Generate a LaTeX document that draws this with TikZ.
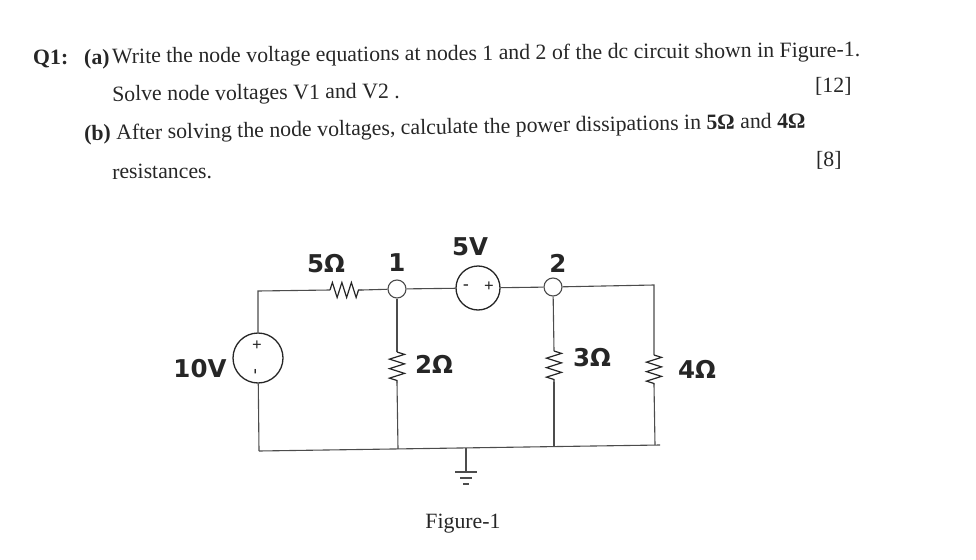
\documentclass[tikz,border=0pt]{standalone}
\usepackage{fontspec}
\setmainfont{Liberation Serif}
\newfontfamily\labelfont{DejaVu Sans}
\usetikzlibrary{decorations.pathmorphing}
\tikzstyle{textLine} = [anchor=west,inner sep=0pt,font=\fontsize{21.8}{24}\selectfont,text=black!85]
\tikzstyle{partLabel} = [inner sep=0pt,font=\labelfont\bfseries\fontsize{24.5}{28}\selectfont,text=black!85]
\tikzstyle{wire} = [draw,black!70,line width=1.1pt]
\tikzstyle{junction} = [draw,circle,black!70,line width=1.1pt,fill=white,minimum size=18pt,inner sep=0pt]
\tikzstyle{source} = [draw,circle,black!85,line width=1.3pt,fill=white,inner sep=0pt]
\tikzstyle{resistor} = [draw,black!85,line width=1.2pt,decorate,decoration={zigzag,segment length=9.5pt,amplitude=7.5pt}]
\tikzstyle{polarity} = [inner sep=0pt,text=black!85,font=\bfseries\fontsize{17}{17}\selectfont]
\begin{document}
\begin{tikzpicture}[x=1pt,y=-1pt]
		\useasboundingbox (0,0) rectangle (976,559);
		%question text
		\node[textLine,rotate=0.5](lineQ) at (33,59){\textbf{Q1:}};
		\node[textLine,rotate=0.5](lineP) at (84,59){\textbf{(a)}};
		\node[textLine,rotate=0.5](lineA) at (112,58){Write the node voltage equations at nodes 1 and 2 of the dc circuit shown in Figure-1.};
		\node[textLine,rotate=0.6](lineB) at (112,96){Solve node voltages V1 and V2 .};
		\node[textLine,rotate=1](lineC) at (84,135){\textbf{(b)} After solving the node voltages, calculate the power dissipations in \textbf{5Ω} and \textbf{4Ω}};
		\node[textLine,rotate=0.6](lineD) at (112,172){resistances.};
		\node[textLine](markA) at (815,86){[12]};
		\node[textLine](markB) at (816,160){[8]};
		%circuit nodes
		\node[source,minimum size=50pt](srcTen) at (258,358){};
		\node[source,minimum size=44pt](srcFive) at (478,288){};
		\node[junction](nodeOne) at (397,289){};
		\node[junction](nodeTwo) at (553,287){};
		\coordinate (topLeft) at (258,291);
		\coordinate (topRight) at (654,285);
		\coordinate (botLeft) at (259,451);
		\coordinate (botTwo) at (398,449);
		\coordinate (botGnd) at (466,448);
		\coordinate (botThree) at (554,446);
		\coordinate (botFour) at (655,445);
		\coordinate (botEnd) at (660,445);
		\coordinate (gndTop) at (466,472);
		%resistor ends
		\coordinate (rFiveA) at (330,290);
		\coordinate (rFiveB) at (362,290);
		\coordinate (rTwoA) at (397,352);
		\coordinate (rTwoB) at (397,383);
		\coordinate (rThreeA) at (554,351);
		\coordinate (rThreeB) at (554,382);
		\coordinate (rFourA) at (654,355);
		\coordinate (rFourB) at (654,385);
		%wires
		\path[wire](srcTen)--(topLeft)--(rFiveA);
		\path[resistor](rFiveA)--(rFiveB);
		\path[wire](rFiveB)--(nodeOne);
		\path[wire](nodeOne)--(srcFive);
		\path[wire](srcFive)--(nodeTwo);
		\path[wire](nodeTwo)--(topRight)--(rFourA);
		\path[wire](nodeOne)--(rTwoA);
		\path[resistor](rTwoA)--(rTwoB);
		\path[wire](rTwoB)--(botTwo);
		\path[wire](nodeTwo)--(rThreeA);
		\path[resistor](rThreeA)--(rThreeB);
		\path[wire](rThreeB)--(botThree);
		\path[resistor](rFourA)--(rFourB);
		\path[wire](rFourB)--(botFour);
		\path[wire](srcTen)--(botLeft);
		\path[wire](botLeft)--(botEnd);
		\path[wire](botGnd)--(gndTop);
		%ground
		\path[wire,line width=1.4pt](455,472)--(477,472);
		\path[wire,line width=1.4pt](460,478)--(472,478);
		\path[wire,line width=1.6pt](463,484)--(469,484);
		%polarity marks
		\node[polarity](tenPlus) at (257,346){+};
		\node[polarity](tenMinus) at (257,372){\rotatebox{90}{-}};
		\node[polarity](fivePlus) at (489,287){+};
		\node[polarity](fiveMinus) at (466,287){-};
		%labels
		\node[partLabel](lblTen) at (200,369){10V};
		\node[partLabel](lblFive) at (326,264){5Ω};
		\node[partLabel](lblOne) at (397,263){1};
		\node[partLabel](lblV) at (470,247){5V};
		\node[partLabel](lblNodeTwo) at (558,263){2};
		\node[partLabel](lblTwo) at (434,364){2Ω};
		\node[partLabel](lblThree) at (592,358){3Ω};
		\node[partLabel](lblFour) at (697,369){4Ω};
		\node[textLine,anchor=center](figLabel) at (463,524){Figure-1};
	\end{tikzpicture}
\end{document}
